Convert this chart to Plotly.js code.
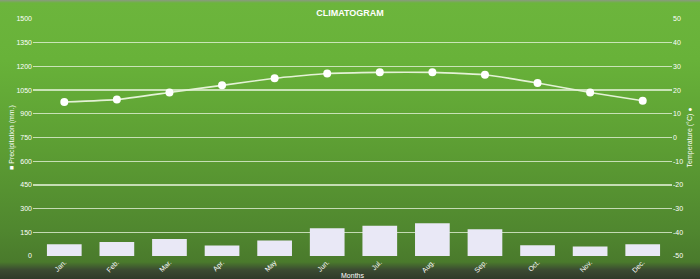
<!DOCTYPE html>
<html>
<head>
<meta charset="utf-8">
<script src="https://cdn.plot.ly/plotly-3.0.1.min.js"></script>
<style>
html,body{margin:0;padding:0;}
body{width:700px;height:279px;overflow:hidden;
background:linear-gradient(to bottom,#8a9a80 0px,#6cb53c 3px,#68b239 60px,#5c9d33 150px,#50872f 230px,#4a7a2c 262px,#3b4a32 270px,#2f3a2a 279px);}
#chart{width:700px;height:279px;}
</style>
</head>
<body>
<div id="chart"></div>
<script>
const months = ["Jan.","Feb.","Mar.","Apr.","May","Jun.","Jul.","Aug.","Sep.","Oct.","Nov.","Dec."];
const precipitation = [74, 88, 107, 66, 98, 175, 192, 208, 170, 68, 60, 75];
const temperature = [15, 16, 19, 22, 25, 27, 27.5, 27.5, 26.5, 23, 19, 15.5];
const precipTicks = [0,150,300,450,600,750,900,1050,1200,1350,1500];
const tempTicks = [-50,-40,-30,-20,-10,0,10,20,30,40,50];

const font = {family:"Liberation Sans, Arial, sans-serif", color:"#ffffff", size:7};

const data = [
  {type:"bar", x:months, y:precipitation, yaxis:"y", name:"Precipitation",
   marker:{color:"#e9e8f6"}, width:0.66},
  {type:"scatter", mode:"lines+markers", x:months, y:temperature, yaxis:"y2", name:"Temperature",
   line:{color:"#e4f2d6", width:1.6, shape:"spline", smoothing:0.3},
   marker:{color:"#ffffff", size:8}}
];

const layout = {
  width:700, height:279,
  margin:{l:33, r:28, t:19, b:23},
  paper_bgcolor:"rgba(0,0,0,0)", plot_bgcolor:"rgba(0,0,0,0)",
  showlegend:false,
  font:font,
  title:{text:"<b>CLIMATOGRAM</b>", x:0.5, xanchor:"center", y:0.955, yanchor:"middle",
         font:{family:"Liberation Sans, Arial, sans-serif", size:9, color:"#ffffff"}},
  xaxis:{type:"category", range:[-0.595,11.557], showgrid:false, zeroline:false, showline:false,
         tickangle:-45, tickfont:{size:7, color:"#ffffff"}, ticks:"",
         title:{text:"Months", font:{size:7, color:"#ffffff"}, standoff:0}, automargin:false},
  yaxis:{range:[0,1500], tickvals:precipTicks, ticktext:precipTicks.map(String),
         showgrid:true, gridcolor:"rgba(235,245,225,0.75)", gridwidth:1.3,
         zeroline:false, showline:false, ticks:"", tickfont:{size:7, color:"#ffffff"},
         title:{text:"■ Precipitation (mm.)", font:{size:7, color:"#ffffff"}, standoff:0}, automargin:false},
  yaxis2:{range:[-50,50], tickvals:tempTicks, ticktext:tempTicks.map(String), overlaying:"y", side:"right",
         showgrid:false, zeroline:false, showline:false, ticks:"", tickfont:{size:7, color:"#ffffff"},
         title:{text:"Temperature (°C) ●", font:{size:7, color:"#ffffff"}, standoff:4}, automargin:false}
};

Plotly.newPlot("chart", data, layout, {displayModeBar:false, staticPlot:true});
</script>
</body>
</html>
